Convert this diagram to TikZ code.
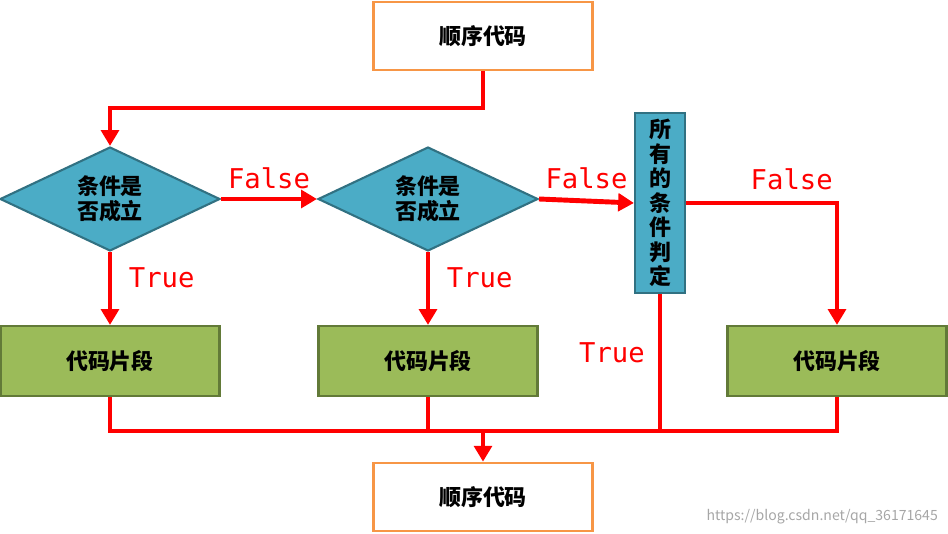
\documentclass[tikz,border=0pt]{standalone}
\usepackage{fontspec}
\setmainfont{Noto Sans CJK SC}
\newfontfamily\labelfont{DejaVu Sans Mono}
\usetikzlibrary{shapes.geometric,arrows.meta}
\definecolor{seqorange}{RGB}{247,150,70}
\definecolor{condblue}{RGB}{75,172,198}
\definecolor{condedge}{RGB}{49,113,130}
\definecolor{codegreen}{RGB}{155,187,89}
\definecolor{codeedge}{RGB}{98,122,56}

\begin{document}
\begin{tikzpicture}[x=0.02cm,y=-0.02cm,
	seqbox/.style={draw=seqorange,line width=1.5pt,fill=white,minimum width=4.38cm,minimum height=1.36cm,font=\bfseries\fontsize{12.5}{14}\selectfont},
	condbox/.style={diamond,aspect=2.1,draw=condedge,line width=1.2pt,fill=condblue,inner sep=0pt,minimum width=4.4cm,minimum height=2.08cm,align=center,font=\bfseries\fontsize{12.5}{14}\selectfont},
	codebox/.style={draw=codeedge,line width=1.2pt,fill=codegreen,minimum width=4.38cm,minimum height=1.4cm,font=\bfseries\fontsize{12.5}{14}\selectfont},
	flow/.style={red,line width=2.8pt},
	flowarrow/.style={flow,-{Triangle[length=9pt,width=10pt]}},
	branch/.style={red,font=\labelfont\fontsize{15.5}{17}\selectfont}
]
	\useasboundingbox (0,0) rectangle (948,534);
	% nodes
	\node[seqbox] (start) at (483,36) {顺序代码};
	\node[condbox] (c1) at (110,199) {条件是\\否成立};
	\node[condbox] (c2) at (428,199) {条件是\\否成立};
	\node[draw=condedge,line width=1.2pt,fill=condblue,minimum width=1cm,minimum height=3.6cm,inner sep=1pt,align=center,font=\bfseries\fontsize{12.5}{14}\selectfont] (all) at (660,203) {所\\有\\的\\条\\件\\判\\定};
	\node[codebox] (p1) at (110,361) {代码片段};
	\node[codebox] (p2) at (428,361) {代码片段};
	\node[codebox] (p3) at (837,361) {代码片段};
	\node[seqbox] (stop) at (483,497) {顺序代码};
	\coordinate (join) at (483,431);
	% connectors
	\draw[flowarrow] (start.south) |- (110,108) -- (c1.north);
	\draw[flowarrow] (c1.east) -- (c2.west) node[branch,midway,above=1pt] {False};
	\draw[flowarrow] (c2.east) -- (all.west) node[branch,midway,above=2pt] {False};
	\draw[flowarrow] (all.east) -| (p3.north) node[branch,pos=0.35,above=3pt] {False};
	\draw[flowarrow] (c1.south) -- (p1.north) node[branch,pos=0.35,right=6pt] {True};
	\draw[flowarrow] (c2.south) -- (p2.north) node[branch,pos=0.35,right=6pt] {True};
	\draw[flow] (p1.south) |- (join);
	\draw[flow] (p3.south) |- (join);
	\draw[flow] (p2.south) -- (p2.south |- join);
	\draw[flow] (all.south) -- (all.south |- join);
	\draw[flowarrow] (join) -- (stop.north);
	\node[branch] (t3) at (612,353) {True};
	\node[gray!70,font=\fontsize{8}{9}\selectfont,anchor=east] (mark) at (944,517) {https://blog.csdn.net/qq\_36171645};
\end{tikzpicture}
\end{document}
